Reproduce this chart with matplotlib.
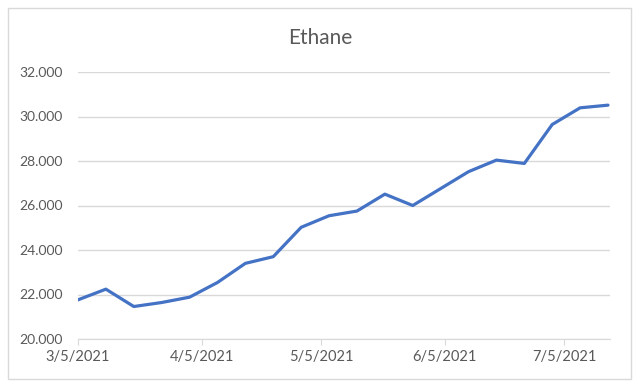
import numpy as np
import pandas as pd
from matplotlib import pyplot as plt
from matplotlib.patches import Rectangle
import matplotlib.dates as mdates

# weekly ethane values
dates = pd.date_range("2021-03-05", periods=20, freq="7D")
ethane = [21.76, 22.24, 21.46, 21.64, 21.88, 22.54, 23.40, 23.70, 25.02, 25.54,
          25.75, 26.51, 26.00, 26.76, 27.52, 28.04, 27.89, 29.64, 30.39, 30.51]

tick_dates = pd.to_datetime(["2021-03-05", "2021-04-05", "2021-05-05", "2021-06-05", "2021-07-05"])
tick_labels = ["3/5/2021", "4/5/2021", "5/5/2021", "6/5/2021", "7/5/2021"]
y_ticks = [20, 22, 24, 26, 28, 30, 32]

text_col = "#595959"
grid_col = "#d9d9d9"

plt.rcParams['font.family'] = ['Lato', 'DejaVu Sans']

fig = plt.figure(figsize=(6.4, 3.9), dpi=100)
# chart border
fig.patches.append(Rectangle((8/640, 11/390), 623/640, 371/390, transform=fig.transFigure,
                             fill=False, edgecolor=grid_col, linewidth=1))

ax = fig.add_axes([78/640, 51/390, 532/640, 267/390])
ax.plot(dates, ethane, color="#4472C4", linewidth=2.3, solid_capstyle="round", solid_joinstyle="round")

ax.set_ylim(20, 32)
ax.set_yticks(y_ticks)
ax.set_yticklabels(["%d.000" % v for v in y_ticks])
ax.set_xlim(dates[0], dates[-1] + pd.Timedelta(days=0.5))
ax.set_xticks(tick_dates)
ax.set_xticklabels(tick_labels)

ax.grid(axis="y", color=grid_col, linewidth=1)
ax.set_axisbelow(True)
for s in ["top", "right", "left"]:
    ax.spines[s].set_visible(False)
ax.spines["bottom"].set_color(grid_col)
ax.tick_params(axis="y", length=0, pad=11, labelsize=10, labelcolor=text_col)
ax.tick_params(axis="x", length=4, color=grid_col, pad=4, labelsize=10.5, labelcolor=text_col)

fig.text(0.5, 352/390, "Ethane", ha="center", va="center", fontsize=15, color=text_col)

fig.savefig("out.png", dpi=100)
